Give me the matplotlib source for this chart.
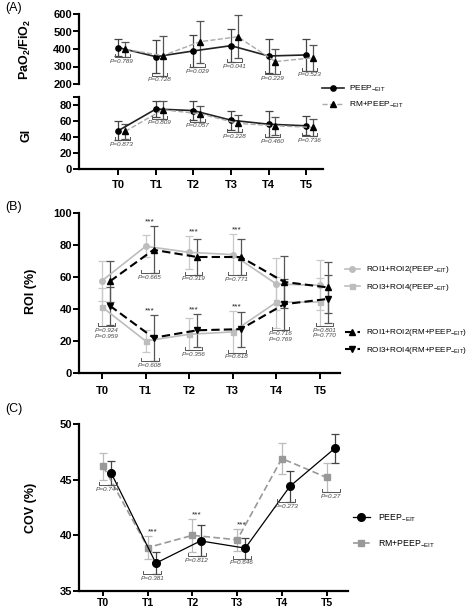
import matplotlib
matplotlib.use('Agg')
import numpy as np
import matplotlib.pyplot as plt

plt.rcParams['font.family'] = ['Liberation Sans', 'DejaVu Sans']
plt.rcParams['mathtext.fontset'] = 'custom'
plt.rcParams['mathtext.rm'] = 'Liberation Sans'
plt.rcParams['mathtext.it'] = 'Liberation Sans:italic'
plt.rcParams['mathtext.bf'] = 'Liberation Sans:bold'

times = ['T0', 'T1', 'T2', 'T3', 'T4', 'T5']

# (A) PaO2/FiO2 and GI
pf_peep = [408, 356, 389, 419, 360, 366]
pf_peep_sd = [47, 95, 91, 93, 97, 89]
pf_rm = [398, 362, 442, 470, 328, 350]
pf_rm_sd = [44, 114, 120, 124, 70, 73]
pf_p = ['0.789', '0.728', '0.029', '0.041', '0.229', '0.523']

gi_peep = [48, 75, 73, 61, 56, 54]
gi_peep_sd = [12, 10, 12, 12, 16, 12]
gi_rm = [47, 74, 69, 57, 54, 52]
gi_rm_sd = [9, 11, 10, 11, 11, 11]
gi_p = ['0.873', '0.809', '0.057', '0.228', '0.460', '0.736']

# (B) ROI distribution
roi12_peep = [57.7, 79.2, 75.4, 74.0, 55.6, 54.8]
roi12_peep_sd = [12.5, 7, 10.4, 13, 16, 15.6]
roi12_rm = [57.3, 77.0, 72.5, 72.5, 56.9, 53.5]
roi12_rm_sd = [13, 14.7, 11, 11.3, 16, 16]
roi34_peep = [41.2, 20.0, 24.2, 25.7, 44.2, 44.4]
roi34_peep_sd = [12, 7, 10, 13, 16, 15]
roi34_rm = [42.0, 22.0, 26.7, 27.4, 43.0, 46.3]
roi34_rm_sd = [12, 14.5, 10.3, 11, 16, 15]
roi12_p = ['0.924', '0.665', '0.319', '0.771', '0.716', '0.801']
roi34_p = ['0.959', '0.608', '0.356', '0.618', '0.769', '0.770']
roi_sig = [False, True, True, True, False, False]

# (C) COV
cov_peep = [45.6, 37.5, 39.5, 38.85, 44.4, 47.8]
cov_peep_sd = [1.1, 1.0, 1.4, 0.95, 1.4, 1.3]
cov_rm = [46.2, 38.9, 40.0, 39.6, 46.9, 45.2]
cov_rm_sd = [1.2, 1.0, 1.5, 1.0, 1.35, 1.3]
cov_p = ['0.744', '0.381', '0.812', '0.646', '0.273', '0.27']
cov_sig = [False, True, True, True, False, False]

peep_lbl = r'PEEP$_{\mathrm{-EIT}}$'
rm_lbl = r'RM+PEEP$_{\mathrm{-EIT}}$'

W, H = 474, 611
fig = plt.figure(figsize=(W / 100, H / 100), dpi=100)
x = np.arange(len(times))
off = 0.18


def series(ax, xs, y, sd, lcolor, mcolor, ecolor, marker, ms, ls, lw, label):
    ax.errorbar(xs, y, yerr=sd, fmt='none', ecolor=ecolor, elinewidth=0.9,
                capsize=3, capthick=0.9, zorder=2)
    line, = ax.plot(xs, y, color=lcolor, ls=ls, lw=lw, marker=marker, ms=ms,
                    mfc=mcolor, mec=mcolor, label=label, zorder=3)
    return line


def bracket(ax, xc, y, plist):
    y0, y1 = ax.get_ylim()
    hpx = ax.get_position().height * H
    h = 3 / hpx * (y1 - y0)
    ax.plot([xc - 0.1, xc - 0.1, xc + 0.3, xc + 0.3], [y + h, y, y, y + h],
            color='#555555', lw=0.7, zorder=4)
    ax.annotate('\n'.join('P=' + p for p in plist), (xc + 0.1, y),
                xytext=(0, -1.2), textcoords='offset points', ha='center',
                va='top', fontsize=4.6, style='italic', color='#444444',
                linespacing=1.15)


def stars(ax, xc, y):
    ax.annotate('***', (xc + 0.1, y), xytext=(0, 0.5), textcoords='offset points',
                ha='center', va='bottom', fontsize=6, color='#222222')


def style(ax, bottom=True):
    for s in ['top', 'right']:
        ax.spines[s].set_visible(False)
    ax.spines['left'].set_linewidth(1.6)
    ax.spines['bottom'].set_linewidth(1.6)
    ax.tick_params(axis='y', length=4.5, width=1.4, pad=0.5, labelsize=8)
    ax.tick_params(axis='x', length=4, width=1.4, pad=4, labelsize=8)
    for t in ax.get_yticklabels() + ax.get_xticklabels():
        t.set_fontweight('bold')
    if not bottom:
        ax.spines['bottom'].set_visible(False)
        ax.tick_params(axis='x', bottom=False, labelbottom=False)


# ---------- (A) ----------
axA1 = fig.add_axes([79 / W, 1 - 84 / H, 244 / W, 70 / H])
axA2 = fig.add_axes([79 / W, 1 - 169 / H, 244 / W, 72 / H])
for ax in (axA1, axA2):
    ax.set_xlim(-1.05, 5.45)
axA1.set_ylim(200, 600)
axA1.set_yticks([200, 300, 400, 500, 600])
axA2.set_ylim(0, 90)
axA2.set_yticks([0, 20, 40, 60, 80, 90])
axA2.set_yticklabels(['0', '20', '40', '60', '80', ''])
axA2.set_xticks(x)
axA2.set_xticklabels(times)

hA1 = series(axA1, x, pf_peep, pf_peep_sd, '#222222', 'black', '#444444', 'o', 3.8, '-', 1.2, peep_lbl)
hA2 = series(axA1, x + off, pf_rm, pf_rm_sd, '#aaaaaa', 'black', '#555555', '^', 4.2, '--', 1.0, rm_lbl)
series(axA2, x, gi_peep, gi_peep_sd, '#222222', 'black', '#444444', 'o', 3.8, '-', 1.2, peep_lbl)
series(axA2, x + off, gi_rm, gi_rm_sd, '#aaaaaa', 'black', '#555555', '^', 4.2, '--', 1.0, rm_lbl)
for i in range(len(times)):
    bracket(axA1, x[i], min(pf_peep[i] - pf_peep_sd[i], pf_rm[i] - pf_rm_sd[i]), [pf_p[i]])
    bracket(axA2, x[i], min(gi_peep[i] - gi_peep_sd[i], gi_rm[i] - gi_rm_sd[i]), [gi_p[i]])
style(axA1, bottom=False)
style(axA2)
axA1.set_ylabel(r'PaO$_\mathbf{2}$/FiO$_\mathbf{2}$', fontsize=9, fontweight='bold')
axA1.yaxis.set_label_coords(-0.19, 0.5)
axA2.set_ylabel('GI', fontsize=9, fontweight='bold')
axA2.yaxis.set_label_coords(-0.19, 0.47)
fig.legend(handles=[hA1, hA2], loc='center left', bbox_to_anchor=(322 / W, 1 - 97 / H),
           frameon=False, fontsize=6, handlelength=2.6, handletextpad=0.6,
           labelspacing=0.7, borderpad=0, borderaxespad=0)

# ---------- (B) ----------
axB = fig.add_axes([79 / W, 1 - 373 / H, 261 / W, 160 / H])
axB.set_xlim(-0.53, 5.46)
axB.set_ylim(0, 100)
axB.set_yticks([0, 20, 40, 60, 80, 100])
axB.set_xticks(x)
axB.set_xticklabels(times)
lg = '#bdbdbd'
hB1 = series(axB, x, roi12_peep, roi12_peep_sd, lg, lg, '#c8c8c8', 'o', 4, '-', 1.2, r'ROI1+ROI2(PEEP$_{\mathrm{-EIT}}$)')
hB2 = series(axB, x, roi34_peep, roi34_peep_sd, lg, lg, '#c8c8c8', 's', 3.6, '-', 1.2, r'ROI3+ROI4(PEEP$_{\mathrm{-EIT}}$)')
hB3 = series(axB, x + off, roi12_rm, roi12_rm_sd, 'black', 'black', '#555555', '^', 4, (0, (4, 2)), 1.5, r'ROI1+ROI2(RM+PEEP$_{\mathrm{-EIT}}$)')
hB4 = series(axB, x + off, roi34_rm, roi34_rm_sd, 'black', 'black', '#555555', 'v', 4, (0, (4, 2)), 1.5, r'ROI3+ROI4(RM+PEEP$_{\mathrm{-EIT}}$)')
for i in range(len(times)):
    low = min(roi34_peep[i] - roi34_peep_sd[i], roi34_rm[i] - roi34_rm_sd[i])
    if roi_sig[i]:
        up_low = min(roi12_peep[i] - roi12_peep_sd[i], roi12_rm[i] - roi12_rm_sd[i])
        bracket(axB, x[i], up_low, [roi12_p[i]])
        bracket(axB, x[i], low, [roi34_p[i]])
        stars(axB, x[i], max(roi12_peep[i] + roi12_peep_sd[i], roi12_rm[i] + roi12_rm_sd[i]))
        stars(axB, x[i], max(roi34_peep[i] + roi34_peep_sd[i], roi34_rm[i] + roi34_rm_sd[i]))
    else:
        bracket(axB, x[i], low, [roi12_p[i], roi34_p[i]])
style(axB)
axB.tick_params(axis='x', pad=5)
axB.set_ylabel('ROI (%)', fontsize=9, fontweight='bold')
axB.yaxis.set_label_coords(-0.16, 0.51)
fig.legend(handles=[hB1, hB2], loc='center left', bbox_to_anchor=(345 / W, 1 - 278.5 / H),
           frameon=False, fontsize=5.9, handlelength=1.8, handletextpad=0.75,
           labelspacing=0.75, borderpad=0, borderaxespad=0)
fig.legend(handles=[hB3, hB4], loc='center left', bbox_to_anchor=(345 / W, 1 - 341.5 / H),
           frameon=False, fontsize=5.9, handlelength=1.8, handletextpad=0.75,
           labelspacing=0.75, borderpad=0, borderaxespad=0)

# ---------- (C) ----------
axC = fig.add_axes([79 / W, 1 - 591 / H, 269 / W, 167 / H])
axC.set_xlim(-0.54, 5.48)
axC.set_ylim(35, 50)
axC.set_yticks([35, 40, 45, 50])
axC.set_xticks(x)
axC.set_xticklabels(times)
hC2 = series(axC, x, cov_rm, cov_rm_sd, '#999999', '#999999', '#bbbbbb', 's', 4, (0, (4, 2)), 1.2, rm_lbl)
hC1 = series(axC, x + off, cov_peep, cov_peep_sd, 'black', 'black', '#444444', 'o', 5.5, '-', 0.9, peep_lbl)
for i in range(len(times)):
    bracket(axC, x[i], min(cov_peep[i] - cov_peep_sd[i], cov_rm[i] - cov_rm_sd[i]), [cov_p[i]])
    if cov_sig[i]:
        stars(axC, x[i], max(cov_peep[i] + cov_peep_sd[i], cov_rm[i] + cov_rm_sd[i]))
style(axC)
axC.tick_params(axis='x', length=3.5, pad=1.2, labelsize=7.6)
axC.set_ylabel('COV (%)', fontsize=9, fontweight='bold')
axC.yaxis.set_label_coords(-0.156, 0.5)
fig.legend(handles=[hC1, hC2], loc='center left', bbox_to_anchor=(353 / W, 1 - 531 / H),
           frameon=False, fontsize=6.3, handlelength=1.9, handletextpad=0.95,
           labelspacing=1.6, borderpad=0, borderaxespad=0)

# panel letters
for lbl, ypx in [('(A)', 8), ('(B)', 207), ('(C)', 409)]:
    fig.text(5 / W, 1 - ypx / H, lbl, fontsize=9, va='center', ha='left')

fig.savefig('out.png', dpi=100)
